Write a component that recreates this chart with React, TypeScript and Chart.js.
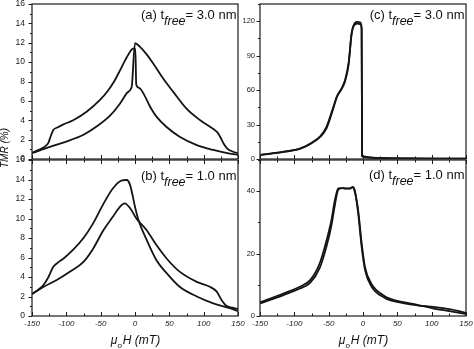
import React, { useEffect, useRef } from "react";
import { Chart, registerables } from "chart.js";
Chart.register(...registerables);

const W = 474;
const H = 349;
const FAMILY = '"Liberation Sans", Arial, sans-serif';

// ---------- data ----------
// (a) t_free = 3.0 nm
const fieldA1 = [-150, -140, -130, -126, -123, -119, -113, -105, -90, -70, -51, -40, -30, -20, -12, -6, -3, 0.5, 1.8, 6, 12, 22, 31, 46, 65, 90, 114, 138, 150];
const tmrA1 = [0.65, 0.95, 1.35, 1.7, 2.3, 3.0, 3.25, 3.55, 4.0, 4.9, 6.1, 7.0, 8.05, 9.4, 10.5, 11.2, 11.4, 11.4, 7.7, 7.35, 6.8, 5.4, 4.4, 3.3, 2.3, 1.44, 0.93, 0.55, 0.45];
const fieldA2 = [-150, -124, -100, -75, -56, -36, -22, -12, -6, -4.5, 0, 7, 17, 27, 41, 56, 75, 95, 114, 120, 124, 129, 134, 143, 150];
const tmrA2 = [0.6, 1.25, 1.8, 2.5, 3.35, 4.5, 5.7, 6.8, 7.25, 7.6, 11.95, 11.6, 10.8, 9.8, 8.3, 6.9, 5.2, 4.0, 3.1, 2.75, 2.3, 1.6, 1.1, 0.75, 0.6];

// (b) t_free = 1.0 nm
const fieldB1 = [-150, -140, -133, -126, -119, -110, -104, -90, -75, -61, -46, -32, -19, -12, -7, 0, 5, 17, 31, 46, 65, 90, 114, 138, 150];
const tmrB1 = [2.26, 2.75, 3.2, 4.0, 5.05, 5.6, 5.9, 6.8, 8.0, 9.5, 11.5, 13.1, 13.9, 13.95, 13.4, 11.2, 9.85, 7.8, 5.75, 4.4, 3.0, 2.0, 1.3, 0.8, 0.5];
const fieldB2 = [-150, -133, -114, -95, -75, -61, -46, -32, -22, -15, -7, 2, 17, 31, 46, 65, 90, 109, 119, 126, 133, 142, 150];
const tmrB2 = [2.26, 3.0, 3.7, 4.55, 5.55, 6.9, 8.8, 10.2, 11.2, 11.55, 11.05, 10.0, 8.8, 7.3, 5.9, 4.55, 3.5, 3.0, 2.5, 1.65, 1.05, 0.85, 0.7];

// (c) t_free = 3.0 nm
const fieldC = [-150, -115, -91, -76, -62, -53, -43, -38, -31, -26, -21, -16.5, -12, -8, -4, -2, -1.3, 0, 5, 15, 40, 80, 120, 150];
const tmrC1 = [3.5, 6.4, 9.3, 13.7, 20, 28.3, 45.7, 54.5, 61.8, 69, 83.7, 110, 117, 118, 117.5, 113, 2.5, 2.0, 1.5, 1.0, 0.6, 0.4, 0.3, 0.2];
const tmrC2 = [3.3, 6.2, 9.0, 13.3, 19.5, 27.0, 44.5, 54, 61, 68, 82, 109, 118.5, 119.5, 119, 114.5, 2.8, 2.2, 1.8, 1.2, 0.7, 0.5, 0.35, 0.25];

// (d) t_free = 1.0 nm
const fieldD = [-150, -115, -92, -77, -63, -53, -46, -41, -36, -30, -26, -19, -15, -12, -7, -2, 3, 12.6, 30, 40, 55, 79, 103, 128, 150];
const tmrD1 = [4.4, 7.3, 9.4, 11.5, 16.9, 24.3, 30.7, 37.1, 40.9, 41, 40.9, 40.9, 41.4, 40.3, 32.9, 22.2, 14.7, 9.4, 6.0, 5.0, 4.3, 3.4, 2.9, 2.1, 1.0];
const tmrD2 = [4.0, 6.8, 8.8, 10.6, 15.4, 22.4, 29, 35.5, 40.5, 41, 40.8, 40.8, 41.2, 39.8, 33.8, 23.4, 15.6, 10.2, 6.6, 5.5, 4.6, 3.6, 2.4, 1.5, 0.6];

// ---------- ticks & labels ----------
const xTickValues = [-150, -100, -50, 0, 50, 100, 150];
const xTickMarks = [-150, -125, -100, -75, -50, -25, 0, 25, 50, 75, 100, 125, 150];
const yTicksLeft = [0, 2, 4, 6, 8, 10, 12, 14, 16];
const yMarksLeft = [0, 1, 2, 3, 4, 5, 6, 7, 8, 9, 10, 11, 12, 13, 14, 15, 16];
const yTicksC = [0, 30, 60, 90, 120];
const yMarksC = [0, 15, 30, 45, 60, 75, 90, 105, 120, 135];
const yTicksD = [0, 20, 40];
const yMarksD = [0, 10, 20, 30, 40, 50];

const labelA = ["(a) t", "free", "= 3.0 nm"];
const labelB = ["(b) t", "free", "= 1.0 nm"];
const labelC = ["(c) t", "free", "= 3.0 nm"];
const labelD = ["(d) t", "free", "= 1.0 nm"];
const xTitleParts = ["\u03bc", "o", "H (mT)"];
const yTitle = "TMR (%)";

type Area = { left: number; top: number; right: number; bottom: number };
type PanelDef = {
  area: Area;
  yMax: number;
  yTicks: number[];
  yMarks: number[];
  yMajorEvery: number;
  yFont: number;
  yPad: number;
  showX: boolean;
  topTicks: boolean;
  series: { x: number[]; y: number[] }[];
  label: string[];
  labelBase: number;
  xTitle: boolean;
  yTitle: boolean;
};

const panels: PanelDef[] = [
  {
    area: { left: 32, top: 4, right: 238, bottom: 159 },
    yMax: 16, yTicks: yTicksLeft, yMarks: yMarksLeft, yMajorEvery: 2, yFont: 8.5, yPad: 7,
    showX: false, topTicks: false,
    series: [{ x: fieldA1, y: tmrA1 }, { x: fieldA2, y: tmrA2 }],
    label: labelA, labelBase: 18.5, xTitle: false, yTitle: true,
  },
  {
    area: { left: 32, top: 160, right: 238, bottom: 316 },
    yMax: 16, yTicks: yTicksLeft, yMarks: yMarksLeft, yMajorEvery: 2, yFont: 8.5, yPad: 7,
    showX: true, topTicks: true,
    series: [{ x: fieldB1, y: tmrB1 }, { x: fieldB2, y: tmrB2 }],
    label: labelB, labelBase: 180, xTitle: true, yTitle: false,
  },
  {
    area: { left: 260, top: 4, right: 466, bottom: 159 },
    yMax: 135, yTicks: yTicksC, yMarks: yMarksC, yMajorEvery: 30, yFont: 7.5, yPad: 5,
    showX: false, topTicks: false,
    series: [{ x: fieldC, y: tmrC1 }, { x: fieldC, y: tmrC2 }],
    label: labelC, labelBase: 18.5, xTitle: false, yTitle: false,
  },
  {
    area: { left: 260, top: 160, right: 466, bottom: 316 },
    yMax: 50, yTicks: yTicksD, yMarks: yMarksD, yMajorEvery: 20, yFont: 7.5, yPad: 5,
    showX: true, topTicks: true,
    series: [{ x: fieldD, y: tmrD1 }, { x: fieldD, y: tmrD2 }],
    label: labelD, labelBase: 179, xTitle: true, yTitle: false,
  },
];

function decor(p: PanelDef) {
  return {
    id: "decor",
    afterDraw(chart: any) {
      const { ctx, chartArea: a } = chart;
      const xs = chart.scales.x;
      const ys = chart.scales.y;
      ctx.save();
      ctx.strokeStyle = "#1c1c1c";
      ctx.lineWidth = 1.2;
      ctx.strokeRect(a.left, a.top, a.right - a.left, a.bottom - a.top);

      ctx.lineWidth = 1;
      ctx.beginPath();
      for (const v of xTickMarks) {
        const px = Math.round(xs.getPixelForValue(v)) + 0.5;
        const len = v % 50 === 0 ? 4 : 2.5;
        ctx.moveTo(px, a.bottom);
        ctx.lineTo(px, a.bottom - len);
        if (p.topTicks) {
          ctx.moveTo(px, a.top);
          ctx.lineTo(px, a.top + len);
        }
      }
      for (const v of p.yMarks) {
        const py = Math.round(ys.getPixelForValue(v)) + 0.5;
        const len = v % p.yMajorEvery === 0 ? 3.5 : 2;
        ctx.moveTo(a.left, py);
        ctx.lineTo(a.left - len, py);
      }
      ctx.stroke();

      // panel label
      ctx.fillStyle = "#111";
      ctx.textAlign = "left";
      ctx.textBaseline = "alphabetic";
      const mainFont = `13px ${FAMILY}`;
      const subFont = `italic 12.5px ${FAMILY}`;
      ctx.font = mainFont;
      const w1 = ctx.measureText(p.label[0]).width;
      const w3 = ctx.measureText(p.label[2]).width;
      ctx.font = subFont;
      const w2 = ctx.measureText(p.label[1]).width;
      const x0 = a.right - 1.5 - (w1 + w2 + w3);
      ctx.font = mainFont;
      ctx.fillText(p.label[0], x0, p.labelBase);
      ctx.font = subFont;
      ctx.fillText(p.label[1], x0 + w1, p.labelBase + 6);
      ctx.font = mainFont;
      ctx.fillText(p.label[2], x0 + w1 + w2, p.labelBase);

      // x-axis title
      if (p.xTitle) {
        const bigF = `italic 12px ${FAMILY}`;
        const smallF = `italic 8px ${FAMILY}`;
        ctx.font = bigF;
        const t1 = ctx.measureText(xTitleParts[0]).width;
        const t3 = ctx.measureText(xTitleParts[2]).width;
        ctx.font = smallF;
        const t2 = ctx.measureText(xTitleParts[1]).width;
        const cx = (a.left + a.right) / 2;
        const sx = cx - (t1 + t2 + t3) / 2;
        const base = 344;
        ctx.font = bigF;
        ctx.fillText(xTitleParts[0], sx, base);
        ctx.font = smallF;
        ctx.fillText(xTitleParts[1], sx + t1, base + 4);
        ctx.font = bigF;
        ctx.fillText(xTitleParts[2], sx + t1 + t2 + 1, base);
      }

      // y-axis title
      if (p.yTitle) {
        ctx.save();
        ctx.translate(5, 148);
        ctx.rotate(-Math.PI / 2);
        ctx.textAlign = "center";
        ctx.textBaseline = "middle";
        ctx.font = `italic 10px ${FAMILY}`;
        ctx.fillText(yTitle, 0, 0);
        ctx.restore();
      }
      ctx.restore();
    },
  };
}

function fixFit(ax: any, dim: "width" | "height", size: number) {
  ax[dim] = size;
  ax.paddingLeft = 0;
  ax.paddingRight = 0;
  ax.paddingTop = 0;
  ax.paddingBottom = 0;
}

function buildConfig(p: PanelDef): any {
  const datasets = p.series.map((s) => ({
    data: s.x.map((x, i) => ({ x, y: s.y[i] })),
    borderColor: "#141414",
    borderWidth: 1.8,
    pointRadius: 0,
    fill: false,
    cubicInterpolationMode: "monotone",
  }));
  const xAxisH = p.showX ? H - p.area.bottom : 0;
  return {
    type: "line",
    data: { datasets },
    options: {
      responsive: false,
      maintainAspectRatio: false,
      animation: false,
      devicePixelRatio: 1,
      events: [],
      layout: {
        padding: {
          left: 0,
          top: p.area.top,
          right: W - p.area.right,
          bottom: H - p.area.bottom - xAxisH,
        },
      },
      plugins: {
        legend: { display: false },
        tooltip: { enabled: false },
        title: { display: false },
      },
      scales: {
        x: {
          type: "linear",
          position: "bottom",
          min: -150,
          max: 150,
          grid: { display: false, drawTicks: false, tickLength: 0 },
          border: { display: false },
          ticks: {
            display: p.showX,
            autoSkip: false,
            maxRotation: 0,
            minRotation: 0,
            padding: 3,
            color: "#222",
            font: { family: FAMILY, size: 8, style: "italic" },
          },
          afterBuildTicks: (ax: any) => {
            ax.ticks = xTickValues.map((v) => ({ value: v }));
          },
          afterFit: (ax: any) => fixFit(ax, "height", xAxisH),
        },
        y: {
          type: "linear",
          position: "left",
          min: 0,
          max: p.yMax,
          grid: { display: false, drawTicks: false, tickLength: 0 },
          border: { display: false },
          ticks: {
            autoSkip: false,
            padding: p.yPad,
            color: "#222",
            font: { family: FAMILY, size: p.yFont },
          },
          afterBuildTicks: (ax: any) => {
            ax.ticks = p.yTicks.map((v) => ({ value: v }));
          },
          afterFit: (ax: any) => fixFit(ax, "width", p.area.left),
        },
      },
    },
    plugins: [decor(p)],
  };
}

function PanelCanvas({ def }: { def: PanelDef }) {
  const ref = useRef<HTMLCanvasElement>(null);
  useEffect(() => {
    const chart = new Chart(ref.current as HTMLCanvasElement, buildConfig(def));
    return () => chart.destroy();
  }, [def]);
  return (
    <canvas
      ref={ref}
      width={W}
      height={H}
      style={{ position: "absolute", left: 0, top: 0, width: W, height: H }}
    />
  );
}

export default function App() {
  return (
    <div
      style={{
        position: "fixed",
        left: 0,
        top: 0,
        width: W,
        height: H,
        background: "#fff",
        overflow: "hidden",
      }}
    >
      {panels.map((p, i) => (
        <PanelCanvas key={i} def={p} />
      ))}
    </div>
  );
}
